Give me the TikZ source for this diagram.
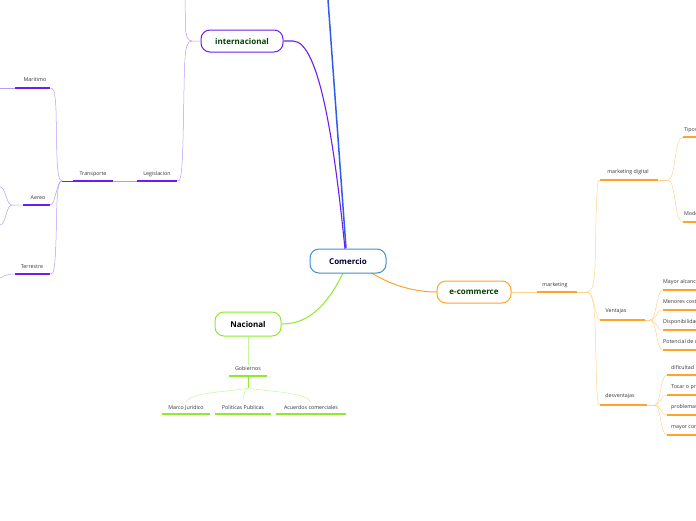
\documentclass[tikz,border=0pt]{standalone}
\usepackage{fontspec}
\setmainfont{Open Sans}
\begin{document}
\begin{tikzpicture}[x=1pt,y=-1pt,
 main/.style={draw,rounded corners=9pt,line width=1pt,fill=white,font=\bfseries\fontsize{8}{9}\selectfont,inner sep=0pt},
 lbl/.style={font=\fontsize{5.3}{6}\selectfont,text=black!80,inner sep=0pt},
 ul/.style={line width=1.3pt},
 br/.style={line width=0.5pt}]
\useasboundingbox (0,0) rectangle (696,520);
\clip (0,0) rectangle (696,520);
\colorlet{pu}{violet!60!blue}
\definecolor{pu}{HTML}{6A1EF0}
\definecolor{lpu}{HTML}{B79BF5}
\definecolor{bl}{HTML}{2F5BF0}
\definecolor{gr}{HTML}{8EEA2A}
\definecolor{lgr}{HTML}{C8F59A}
\definecolor{or}{HTML}{FFA42A}
\definecolor{lor}{HTML}{FFD48F}
\definecolor{cb}{HTML}{3D8FD6}
% central
\draw[bl,line width=1.5pt] (346,248) -- (328,0);
\draw[pu,line width=1.1pt] (345,249) .. controls (335,150) and (320,41) .. (293,41) -- (284,41);
\draw[gr,line width=1pt] (343,273) .. controls (325,310) and (305,324) .. (282,324);
\draw[or,line width=1pt] (370,272) .. controls (395,288) and (420,292) .. (437,292);
\node[main,draw=cb,text=blue!20!black,minimum width=76pt,minimum height=24pt] (com) at (348,261) {Comercio};
\node[main,draw=pu,text=green!25!black,minimum width=82pt,minimum height=22pt] (int) at (242,41) {internacional};
\node[main,draw=gr,text=black,minimum width=66pt,minimum height=24pt] (nac) at (248,324) {Nacional};
\node[main,draw=or,text=green!25!black,minimum width=74pt,minimum height=22pt] (eco) at (474,292) {e-commerce};
% internacional subtree
\draw[lpu,br] (int.west) -- (192,41) .. controls (183,41) and (186,20) .. (185,0);
\draw[lpu,br] (192,41) .. controls (183,41) and (185,60) .. (183,140) .. controls (182,181) and (180,181) .. (177,181);
\node[lbl] (leg) at (157,174) {Legislacion};
\draw[pu,ul] (137,181) -- (177,181);
\draw[lpu,br] (113,181) -- (137,181);
\node[lbl] (tra) at (93,174) {Transporte};
\draw[pu,ul] (73,181) -- (113,181);
\draw[pu,br] (62,181) -- (73,181);
\node[lbl] (mar) at (35,80) {Maritimo};
\draw[pu,ul] (15,88) -- (50,88);
\node[lbl] (aer) at (38,198) {Aereo};
\draw[pu,ul] (23,205) -- (50,205);
\node[lbl] (ter) at (32,267) {Terrestre};
\draw[pu,ul] (15,274) -- (50,274);
\draw[lpu,br] (62,181) .. controls (56,181) and (57,150) .. (56,110) .. controls (55,88) and (53,88) .. (50,88);
\draw[lpu,br] (62,181) .. controls (56,181) and (56,205) .. (50,205);
\draw[lpu,br] (62,181) .. controls (56,181) and (57,210) .. (56,240) .. controls (55,274) and (53,274) .. (50,274);
\draw[lpu,br] (15,88) -- (0,88);
\draw[lpu,br] (23,205) -- (12,205) .. controls (6,205) and (6,187) .. (0,187);
\draw[lpu,br] (12,205) .. controls (6,205) and (6,225) .. (0,225);
\draw[lpu,br] (15,274) .. controls (5,274) and (3,277) .. (0,278);
% Nacional subtree
\draw[lgr,br] (nac.south) -- (248,365);
\node[lbl] (gob) at (248,369) {Gobiernos};
\draw[gr,ul] (229,376) -- (267,376);
\draw[gr,br] (248,376) -- (248,388);
\node[lbl] (mj) at (186,408) {Marco Juridico};
\draw[gr,ul] (162,414) -- (210,414);
\node[lbl] (pp) at (243,408) {Politicas Publicas};
\draw[gr,ul] (215,414) -- (271,414);
\node[lbl] (ac) at (311,408) {Acuerdos comerciales};
\draw[gr,ul] (276,414) -- (346,414);
\draw[lgr,br] (248,388) .. controls (230,392) and (190,392) .. (186,402);
\draw[lgr,br] (248,388) .. controls (244,392) and (243,395) .. (243,402);
\draw[lgr,br] (248,388) .. controls (270,392) and (305,392) .. (311,402);
% e-commerce subtree
\draw[lor,br] (eco.east) -- (537,292);
\node[lbl] (mk) at (555,285) {marketing};
\draw[or,ul] (537,292) -- (577,292);
\draw[lor,br] (577,292) -- (587,292);
\node[lbl] (md) at (628,172) {marketing digital};
\draw[or,ul] (600,180) -- (658,180);
\node[lbl] (ve) at (616,311) {Ventajas};
\draw[or,ul] (600,320) -- (645,320);
\node[lbl] (de) at (620,396) {desventajas};
\draw[or,ul] (600,405) -- (647,405);
\draw[lor,br] (587,292) .. controls (596,292) and (595,270) .. (596,220) .. controls (597,180) and (598,180) .. (600,180);
\draw[lor,br] (587,292) .. controls (595,292) and (595,320) .. (600,320);
\draw[lor,br] (587,292) .. controls (596,292) and (595,330) .. (596,360) .. controls (597,405) and (598,405) .. (600,405);
% marketing digital
\draw[lor,br] (658,180) -- (668,180);
\node[lbl,anchor=west] (tp) at (684,130) {Tipos};
\draw[or,ul] (683,137) -- (696,137);
\node[lbl,anchor=west] (mo) at (684,214) {Modelos};
\draw[or,ul] (683,222) -- (696,222);
\draw[lor,br] (668,180) .. controls (676,180) and (674,137) .. (683,137);
\draw[lor,br] (668,180) .. controls (676,180) and (674,222) .. (683,222);
% Ventajas
\draw[lor,br] (645,320) -- (650,320);
\foreach \t/\y [count=\i] in {Mayor alcance/290,Menores costos/310,Disponibilidad/330,Potencial de crecimiento/350}{
  \node[lbl,anchor=west] (v\i) at (663,\y-8) {\t};
  \draw[or,ul] (663,\y) -- (696,\y);
  \draw[lor,br] (650,320) .. controls (657,320) and (656,\y) .. (663,\y);
}
% desventajas
\draw[lor,br] (647,405) -- (655,405);
\foreach \t/\y [count=\i] in {dificultad/375,Tocar o probar/395,problemas/415,mayor competencia/435}{
  \node[lbl,anchor=west] (d\i) at (671,\y-8) {\t};
  \draw[or,ul] (667,\y) -- (696,\y);
  \draw[lor,br] (655,405) .. controls (661,405) and (660,\y) .. (667,\y);
}
\end{tikzpicture}
\end{document}
